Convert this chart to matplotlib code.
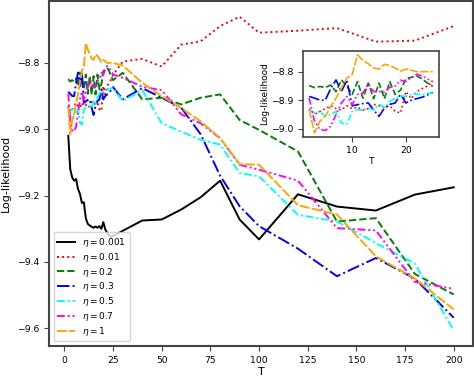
import numpy as np
import matplotlib
matplotlib.use("Agg")
import matplotlib.pyplot as plt

# Time steps (dense up to 25, then sparse)
T = list(range(2, 26)) + [30, 40, 50, 60, 70, 80, 90, 100, 120, 140, 160, 180, 200]

# Log-likelihood for each learning rate
ll_0001 = [-9.020, -9.120, -9.145, -9.155, -9.150, -9.180, -9.195, -9.222, -9.220, -9.268, -9.285, -9.290,
           -9.294, -9.297, -9.293, -9.297, -9.292, -9.300, -9.280, -9.302, -9.312, -9.319, -9.325, -9.322,
           -9.306, -9.275, -9.272, -9.242, -9.205, -9.155, -9.272, -9.332, -9.196, -9.233, -9.245, -9.197, -9.175]
ll_001 = [-8.930, -8.950, -8.940, -8.930, -8.920, -8.930, -8.935, -8.920, -8.930, -8.925, -8.935, -8.930,
          -8.915, -8.920, -8.925, -8.920, -8.940, -8.945, -8.870, -8.895, -8.870, -8.860, -8.850, -8.836,
          -8.796, -8.788, -8.811, -8.745, -8.735, -8.689, -8.661, -8.709, -8.703, -8.695, -8.736, -8.733, -8.689]
ll_02 = [-8.849, -8.856, -8.852, -8.856, -8.847, -8.870, -8.829, -8.850, -8.880, -8.835, -8.893, -8.840,
         -8.895, -8.840, -8.895, -8.835, -8.880, -8.865, -8.825, -8.820, -8.815, -8.825, -8.840, -8.852,
         -8.830, -8.910, -8.905, -8.925, -8.905, -8.895, -8.972, -9.002, -9.067, -9.278, -9.268, -9.436, -9.498]
ll_03 = [-8.887, -8.893, -8.900, -8.900, -8.860, -8.829, -8.870, -8.829, -8.920, -8.916, -8.912, -8.910,
         -8.935, -8.957, -8.928, -8.915, -8.910, -8.880, -8.910, -8.900, -8.895, -8.890, -8.882, -8.873,
         -8.910, -8.876, -8.905, -8.935, -9.015, -9.140, -9.232, -9.292, -9.360, -9.443, -9.388, -9.450, -9.568]
ll_05 = [-8.934, -8.945, -8.940, -8.957, -8.951, -8.940, -8.980, -8.986, -8.940, -8.934, -8.935, -8.928,
         -8.935, -8.915, -8.925, -8.905, -8.893, -8.885, -8.887, -8.880, -8.878, -8.882, -8.876, -8.876,
         -8.915, -8.882, -8.982, -9.007, -9.032, -9.046, -9.132, -9.142, -9.258, -9.278, -9.343, -9.405, -9.606]
ll_07 = [-8.893, -8.974, -9.003, -9.007, -8.992, -8.951, -8.910, -8.887, -8.916, -8.880, -8.875, -8.844,
         -8.870, -8.870, -8.872, -8.855, -8.850, -8.830, -8.835, -8.820, -8.809, -8.815, -8.825, -8.835,
         -8.845, -8.872, -8.882, -8.955, -8.982, -9.027, -9.107, -9.122, -9.155, -9.298, -9.305, -9.460, -9.481]
ll_1 = [-8.934, -9.015, -8.974, -8.957, -8.922, -8.893, -8.858, -8.823, -8.810, -8.741, -8.760, -8.772,
        -8.787, -8.791, -8.774, -8.779, -8.787, -8.798, -8.791, -8.795, -8.800, -8.800, -8.800, -8.800,
        -8.808, -8.860, -8.900, -8.936, -8.976, -9.027, -9.105, -9.107, -9.229, -9.257, -9.383, -9.450, -9.543]

labels = [r"$\eta = 0.001$", r"$\eta = 0.01$", r"$\eta = 0.2$", r"$\eta = 0.3$",
          r"$\eta = 0.5$", r"$\eta = 0.7$", r"$\eta = 1$"]
series = [ll_0001, ll_001, ll_02, ll_03, ll_05, ll_07, ll_1]
colors = ["black", "red", "green", "blue", "cyan", "magenta", "orange"]
styles = ["-", ":", "--", "-.", (0, (4, 1.5, 1, 1.5)), (0, (4, 1.5, 1, 1.5, 1, 1.5)), (0, (5, 1.2))]

spine_col = "#444444"

fig = plt.figure(figsize=(4.74, 3.79), dpi=100)
ax = fig.add_axes([0.1034, 0.0871, 0.8945, 0.910])

for y, lab, c, ls in zip(series, labels, colors, styles):
    ax.plot(T, y, color=c, linestyle=ls, linewidth=1.4, label=lab)

ax.set_xticks(range(0, 201, 25))
ax.set_yticks([-9.6, -9.4, -9.2, -9.0, -8.8])
ax.tick_params(labelsize=6.7, color=spine_col)
ax.set_xlabel("T", fontsize=8, labelpad=2)
ax.set_ylabel("Log-likelihood", fontsize=8)
for s in ax.spines.values():
    s.set_color(spine_col)
    s.set_linewidth(1.5)
ax.legend(loc="lower left", fontsize=6.5, labelspacing=0.2)

# Inset: zoom on the first 25 steps
n = 24
axin = fig.add_axes([0.6392, 0.6393, 0.2869, 0.2261])
for y, c, ls in zip(series[1:], colors[1:], styles[1:]):
    axin.plot(T[:n], y[:n], color=c, linestyle=ls, linewidth=1.2)
axin.set_xticks([10, 20])
axin.set_yticks([-9.0, -8.9, -8.8])
axin.tick_params(labelsize=6.7, color=spine_col)
axin.set_xlabel("T", fontsize=6.7, labelpad=1)
axin.set_ylabel("Log-likelihood", fontsize=6.5, labelpad=1)
for s in axin.spines.values():
    s.set_color(spine_col)
    s.set_linewidth(1.2)

fig.savefig("out.png", dpi=100)
